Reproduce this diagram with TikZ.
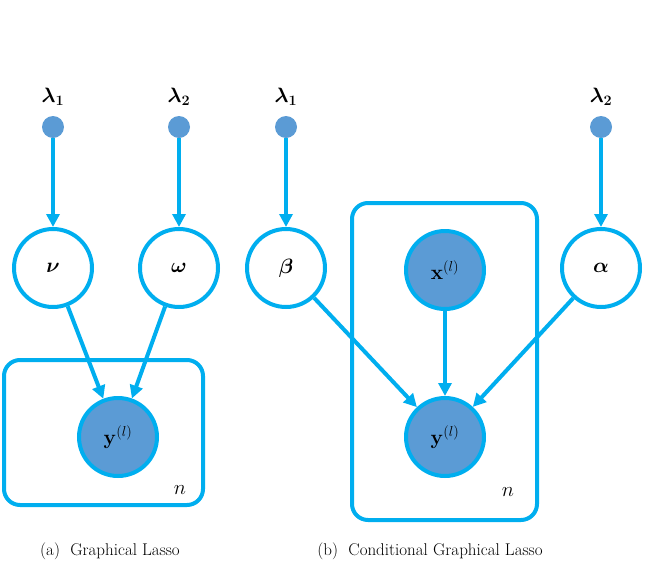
\documentclass[tikz,border=0pt]{standalone}
\usepackage{amsmath}
\usepackage{bm}
\usetikzlibrary{arrows.meta}
\definecolor{edgec}{RGB}{0,174,239}
\definecolor{fillc}{RGB}{91,155,213}
\begin{document}
\begin{tikzpicture}[x=1pt,y=-1pt,
  latent/.style={circle,draw=edgec,line width=4pt,fill=white,minimum size=78pt,inner sep=0pt,font=\fontsize{22}{24}\selectfont},
  obs/.style={latent,fill=fillc},
  const/.style={circle,fill=fillc,minimum size=22pt,inner sep=0pt},
  lab/.style={font=\fontsize{22}{24}\selectfont},
  plate/.style={draw=edgec,line width=4pt,rounded corners=16pt},
  edge/.style={draw=edgec,line width=4pt,-{Triangle[length=13pt,width=13pt]}},
  caption/.style={font=\fontsize{17}{19}\selectfont}] %
  \useasboundingbox (0,0) rectangle (648,571);
  % plates
  \draw[plate] (4,360) rectangle (203,505);
  \draw[plate] (352,203) rectangle (537,520);
  \node[font=\fontsize{20}{22}\selectfont] at (180,490) {$n$};
  \node[font=\fontsize{20}{22}\selectfont] at (508,492) {$n$};
  % (a)
  \node[const] (lamA) at (53,127) {};
  \node[const] (lamB) at (179,127) {};
  \node[lab] at (53,97) {$\bm{\lambda_1}$};
  \node[lab] at (179,97) {$\bm{\lambda_2}$};
  \node[latent] (nu) at (53,268) {$\bm{\nu}$};
  \node[latent] (omega) at (179,268) {$\bm{\omega}$};
  \node[obs] (ya) at (118,437) {$\mathbf{y}^{(l)}$};
  \draw[edge] (lamA)--(nu);
  \draw[edge] (lamB)--(omega);
  \draw[edge] (nu)--(ya);
  \draw[edge] (omega)--(ya);
  % (b)
  \node[const] (lamC) at (286,127) {};
  \node[const] (lamD) at (601,127) {};
  \node[lab] at (286,97) {$\bm{\lambda_1}$};
  \node[lab] at (601,97) {$\bm{\lambda_2}$};
  \node[latent] (beta) at (286,268) {$\bm{\beta}$};
  \node[latent] (alpha) at (601,268) {$\bm{\alpha}$};
  \node[obs] (x) at (445,270) {$\mathbf{x}^{(l)}$};
  \node[obs] (yb) at (445,437) {$\mathbf{y}^{(l)}$};
  \draw[edge] (lamC)--(beta);
  \draw[edge] (lamD)--(alpha);
  \draw[edge] (beta)--(yb);
  \draw[edge] (alpha)--(yb);
  \draw[edge] (x)--(yb);
  % captions
  \node[caption] (capa) at (110,551) {(a)\ \ Graphical Lasso};
  \node[caption] (capb) at (430,551) {(b)\ \ Conditional Graphical Lasso};
\end{tikzpicture}
\end{document}
